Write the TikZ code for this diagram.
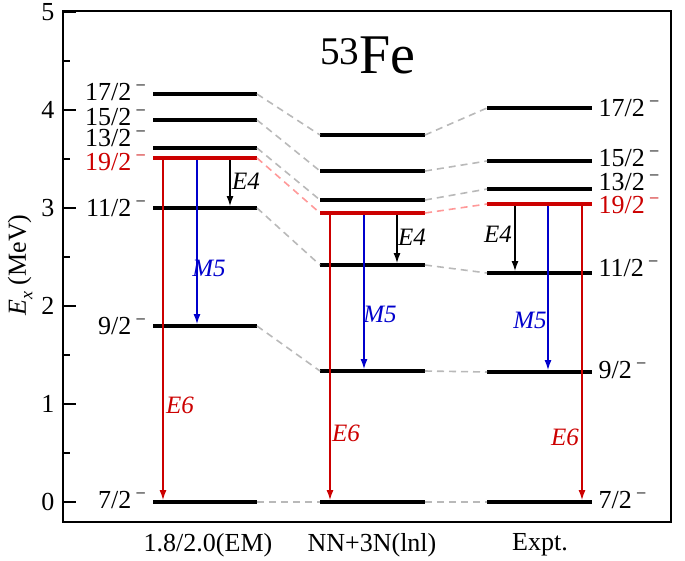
\documentclass[tikz,border=0pt]{standalone}
\usepackage{fontspec}
\setmainfont{Liberation Serif}
\usetikzlibrary{arrows.meta}
\begin{document}
\begin{tikzpicture}[x=1pt,y=-1pt,
 lev/.style={line width=4pt,black},
 rlev/.style={line width=4pt,red!80!black},
 con/.style={gray!55,line width=1.6pt,dash pattern=on 7pt off 5pt},
 rcon/.style={con,red!40},
 tr/.style={-{Latex[length=10pt,width=7pt]},line width=1.2pt},
 lab/.style={font=\fontsize{26}{28}\selectfont},
 tl/.style={font=\fontsize{25}{28}\selectfont\itshape}]
\useasboundingbox (0,0) rectangle (685,560);
\draw[line width=2pt] (63,11) rectangle (671,522);
\foreach \v in {0,...,5}{
 \draw[line width=2pt] (63,{502-98*\v}) -- ++(13,0);
 \node[lab,anchor=east] at (58,{502-98*\v}) {\v};}
\foreach \v in {0,...,4}{\draw[line width=2pt] (63,{453-98*\v}) -- ++(7,0);}
\node[lab,rotate=90] at (20,265) {\textit{E}\raisebox{-0.25em}{\fontsize{18}{18}\selectfont\textit{x}} (MeV)};
\node[font=\fontsize{56}{60}\selectfont] at (368,55) {\textsuperscript{53}Fe};
\node[lab] at (208,545) {1.8/2.0(EM)};
\node[lab] at (372,545) {NN+3N(lnl)};
\node[lab] at (540,545) {Expt.};
% levels
\foreach \n/\y in {a17/94,a15/120,a13/148,a11/208,a9/326,a7/502}{\draw[lev] (153,\y) coordinate(\n l) -- (257,\y) coordinate(\n r);}
\draw[rlev] (153,158) coordinate(a19l) -- (257,158) coordinate(a19r);
\foreach \n/\y in {b17/135,b15/171,b13/200,b11/265,b9/371,b7/502}{\draw[lev] (320,\y) coordinate(\n l) -- (425,\y) coordinate(\n r);}
\draw[rlev] (320,213) coordinate(b19l) -- (425,213) coordinate(b19r);
\foreach \n/\y in {c17/108,c15/161,c13/189,c11/273,c9/372,c7/502}{\draw[lev] (487,\y) coordinate(\n l) -- (592,\y) coordinate(\n r);}
\draw[rlev] (487,204) coordinate(c19l) -- (592,204) coordinate(c19r);
\foreach \n in {17,15,13,11,9,7}{
 \draw[con] (a\n r) -- (b\n l);
 \draw[con] (b\n r) -- (c\n l);}
\draw[rcon] (a19r) -- (b19l);
\draw[rcon] (b19r) -- (c19l);
% labels
\foreach \t/\y in {17/92,15/117,13/138,11/208,9/326,7/500}{\node[lab,anchor=east] at (150,\y) {\t/2\,\textsuperscript{\textminus}};}
\node[lab,anchor=east,red!80!black] at (150,162) {19/2\,\textsuperscript{\textminus}};
\foreach \t/\y in {17/108,15/158,13/182,11/268,9/370,7/500}{\node[lab,anchor=west] at (595,\y) {\t/2\,\textsuperscript{\textminus}};}
\node[lab,anchor=west,red!80!black] at (595,205) {19/2\,\textsuperscript{\textminus}};
% transitions
\draw[tr,red!80!black] (163,160) -- (163,500);
\node[tl,red!80!black] at (180,405) {E6};
\draw[tr,blue!80!black] (197,160) -- (197,324);
\node[tl,blue!80!black] at (209,268) {M5};
\draw[tr] (230,160) -- (230,206);
\node[tl] at (246,181) {E4};
\draw[tr,red!80!black] (330,215) -- (330,500);
\node[tl,red!80!black] at (346,433) {E6};
\draw[tr,blue!80!black] (364,215) -- (364,369);
\node[tl,blue!80!black] at (380,314) {M5};
\draw[tr] (397,215) -- (397,263);
\node[tl] at (412,237) {E4};
\draw[tr,red!80!black] (582,206) -- (582,500);
\node[tl,red!80!black] at (565,437) {E6};
\draw[tr,blue!80!black] (548,206) -- (548,370);
\node[tl,blue!80!black] at (530,320) {M5};
\draw[tr] (515,206) -- (515,271);
\node[tl] at (498,234) {E4};
\end{tikzpicture}
\end{document}
